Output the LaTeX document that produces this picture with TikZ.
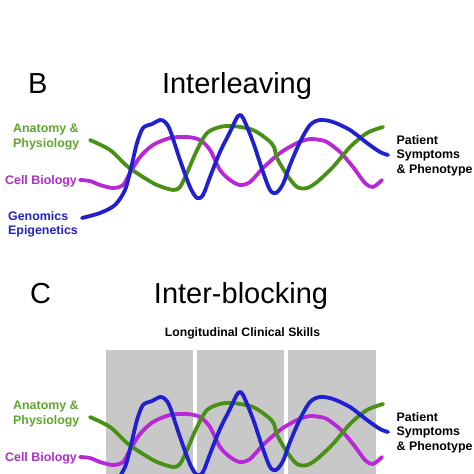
\documentclass[tikz,border=0pt]{standalone}
\usepackage{fontspec}
\setmainfont{Liberation Sans}
\definecolor{grnline}{RGB}{72,145,22}
\definecolor{grntext}{RGB}{95,165,45}
\definecolor{magline}{RGB}{185,40,215}
\definecolor{magtext}{RGB}{175,45,200}
\definecolor{bluline}{RGB}{32,32,208}
\definecolor{blutext}{RGB}{35,35,185}
\definecolor{boxgray}{RGB}{200,200,200}
\tikzset{
  curve/.style={line width=3.8pt, line cap=round, line join=round},
  lbl/.style={font=\fontsize{12.4}{14}\selectfont\bfseries, inner sep=0pt, anchor=base west},
  ttl/.style={font=\fontsize{29}{32}\selectfont, inner sep=0pt, anchor=base},
  letter/.style={font=\fontsize{29}{32}\selectfont, inner sep=0pt, anchor=base west},
  block/.style={fill=boxgray, draw=none},
}
\newcommand{\panelcurves}[1]{%
  \draw[curve, magline] plot[smooth, tension=0.5] coordinates {(80,180) (90,181) (100,185) (113,188) (123,185) (130,173) (140,157) (153,145) (170,138) (187,137) (200,140) (210,150) (220,170) (230,180) (240,185) (250,182) (263,168) (280,153) (297,143) (310,139) (320,140) (327,142) (340,152) (353,167) (365,183) (373,187) (382,180)};
  \draw[curve, grnline] plot[smooth, tension=0.5] coordinates {(90,140) (110,150) (127,166) (143,177) (157,185) (173,190) (180,187) (187,173) (197,150) (207,133) (220,127) (233,126) (253,130) (268,140) (274,147) (277,158) (287,175) (297,187) (307,188) (317,182) (333,167) (350,147) (367,133) (383,127)};
  \draw[curve, bluline] plot[smooth, tension=0.5] coordinates {(82,218) (100,213) (115,205) (125,190) (131,168) (137,143) (143,128) (152,124) (160,120) (165,122) (170,130) (180,160) (190,187) (197,198) (203,195) (210,177) (220,152) (230,132) (238,116) (243,118) (253,142) (263,172) (270,190) (276,193) (283,184) (290,165) (300,142) (310,125) (320,120) (333,122) (350,130) (367,143) (380,152) (388,155)};
  \node[lbl, grntext] (#1ana) at (13,132.7) {Anatomy \&};
  \node[lbl, grntext] (#1phy) at (13,147.6) {Physiology};
  \node[lbl, magtext] (#1cell) at (5,184) {Cell Biology};
  \node[lbl] (#1pat) at (396.5,144) {Patient};
  \node[lbl] (#1sym) at (396.5,158.7) {Symptoms};
  \node[lbl] (#1phe) at (396.5,173.4) {\& Phenotype};
}
\begin{document}
\begin{tikzpicture}[x=1pt, y=-1pt]
  \useasboundingbox (0,0) rectangle (474,474);
  \clip (0,0) rectangle (474,474);
  % Panel B
  \node[letter] (lb) at (28,93.3) {B};
  \node[ttl] (tb) at (237,93.3) {Interleaving};
  \panelcurves{b}
  \node[lbl, blutext] (bgen) at (8,220) {Genomics};
  \node[lbl, blutext] (bepi) at (8,234.7) {Epigenetics};
  % Panel C
  \node[letter] (lc) at (30,303.3) {C};
  \node[ttl] (tc) at (241,303.3) {Inter-blocking};
  \node[font=\fontsize{12.2}{14}\selectfont\bfseries, inner sep=0pt, anchor=base] (lcs) at (242.5,336) {Longitudinal Clinical Skills};
  \fill[block] (106,350) rectangle (193,480);
  \fill[block] (197,350) rectangle (284,480);
  \fill[block] (288,350) rectangle (376,480);
  \begin{scope}[shift={(0,277)}]
    \panelcurves{c}
  \end{scope}
\end{tikzpicture}
\end{document}
